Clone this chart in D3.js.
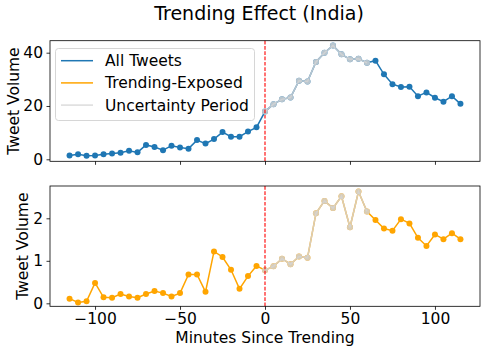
<!DOCTYPE html>
<html><head><meta charset="utf-8">
<script src="https://cdn.jsdelivr.net/npm/d3@7"></script>
<style>body{margin:0;background:#fff}svg{display:block;font-family:"DejaVu Sans",sans-serif}</style>
</head><body>
<svg id="c" width="485" height="351"></svg>
<script>
const minutes = d3.range(-115, 116, 5);
const allTweets = [1.4,1.9,1.3,1.4,1.9,2.2,2.5,3.2,2.6,5.4,4.6,3.4,5.1,4.4,4.0,7.2,5.9,7.6,10.2,8.5,8.5,10.4,12.0,
  17.9,20.7,22.5,23.2,29.5,29.2,36.5,40.0,42.7,39.4,37.5,37.7,36.2,37.0,31.9,28.2,27.1,27.2,23.7,25.1,23.1,21.6,23.7,20.8];
const trendingExposed = [0.11,0.02,0.05,0.48,0.14,0.13,0.22,0.16,0.13,0.22,0.29,0.24,0.16,0.24,0.68,0.68,0.27,1.22,1.09,0.79,0.34,0.64,0.88,
  0.78,0.87,1.05,0.92,1.10,1.07,2.12,2.41,2.24,2.52,1.79,2.63,2.16,1.96,1.76,1.71,1.98,1.88,1.54,1.35,1.62,1.51,1.65,1.51];
const uncertaintyStart = 0, uncertaintyEnd = 60;
const xTicks = [-100,-50,0,50,100];
const topTicks = [0,20,40];
const bottomTicks = [0,1,2];
const legendLabels = ["All Tweets","Trending-Exposed","Uncertainty Period"];
const title = "Trending Effect (India)";

const BLUE="#1f77b4", ORANGE="#ffa500", GRAY="#d3d3d3";
const FS = 15.5;
const svg = d3.select("#c");
const L=50, R=480;
const x = d3.scaleLinear().domain([-126.5,126.5]).range([L,R]);

function panel(top, bottom, vals, color, yDomain, yTicks, showXLabels, yLabelX){
  const y = d3.scaleLinear().domain(yDomain).range([bottom, top]);
  const g = svg.append("g");
  const pts = minutes.map((m,i)=>({m, v: vals[i]}));
  const line = d3.line().x(d=>x(d.m)).y(d=>y(d.v));
  g.append("path").attr("d", line(pts)).attr("fill","none").attr("stroke",color).attr("stroke-width",1.5);
  g.selectAll("circle.c").data(pts).join("circle").attr("cx",d=>x(d.m)).attr("cy",d=>y(d.v)).attr("r",3).attr("fill",color);
  const unc = pts.filter(d=>d.m>=uncertaintyStart && d.m<=uncertaintyEnd);
  g.append("path").attr("d", line(unc)).attr("fill","none").attr("stroke",GRAY).attr("stroke-width",1.5).attr("opacity",0.85);
  g.selectAll("circle.u").data(unc).join("circle").attr("cx",d=>x(d.m)).attr("cy",d=>y(d.v)).attr("r",3).attr("fill",GRAY).attr("opacity",0.85);
  g.append("line").attr("x1",x(0)).attr("x2",x(0)).attr("y1",top).attr("y2",bottom)
    .attr("stroke","#ff0000").attr("stroke-width",1.1).attr("stroke-dasharray","3.7,1.6");
  g.append("rect").attr("x",L).attr("y",top).attr("width",R-L).attr("height",bottom-top)
    .attr("fill","none").attr("stroke","#000").attr("stroke-width",0.8);
  const xa = svg.append("g").attr("transform",`translate(0,${bottom})`)
    .call(d3.axisBottom(x).tickValues(xTicks).tickSize(3.5).tickPadding(3.5).tickFormat(showXLabels? (d=>d<0?"\u2212"+Math.abs(d):String(d)) : ""));
  const ya = svg.append("g").attr("transform",`translate(${L},0)`)
    .call(d3.axisLeft(y).tickValues(yTicks).tickSize(3.5).tickPadding(3.5).tickFormat(d3.format("d")));
  [xa,ya].forEach(a=>{a.select(".domain").remove();a.selectAll("text").attr("font-size",FS).attr("fill","#000").attr("font-family","DejaVu Sans");a.selectAll("line").attr("stroke","#000").attr("stroke-width",0.8);});
  svg.append("text").attr("transform",`translate(${yLabelX},${(top+bottom)/2}) rotate(-90)`).attr("text-anchor","middle")
    .attr("font-size",FS).text("Tweet Volume");
  return y;
}
panel(40.7, 161.3, allTweets, BLUE, [-0.75,44.5], topTicks, false, 19);
panel(186, 306.3, trendingExposed, ORANGE, [-0.07,2.76], bottomTicks, true, 28);

svg.append("text").attr("x",265).attr("y",343).attr("text-anchor","middle").attr("font-size",FS).text("Minutes Since Trending");
svg.append("text").attr("x",259).attr("y",19.5).attr("text-anchor","middle").attr("font-size",19).text(title);

// legend
const lg = svg.append("g");
lg.append("rect").attr("x",55.5).attr("y",48.5).attr("width",199).attr("height",72).attr("rx",3)
  .attr("fill","#fff").attr("fill-opacity",0.8).attr("stroke","#ccc").attr("stroke-width",0.8);
const lcolors=[BLUE,ORANGE,"#dcdcdc"];
legendLabels.forEach((t,i)=>{
  const yy = 60.7 + i*22.2;
  lg.append("line").attr("x1",61).attr("x2",93).attr("y1",yy).attr("y2",yy).attr("stroke",lcolors[i]).attr("stroke-width",1.5);
  lg.append("text").attr("x",105).attr("y",yy+5.4).attr("font-size",FS).text(t);
});
</script>
</body></html>
